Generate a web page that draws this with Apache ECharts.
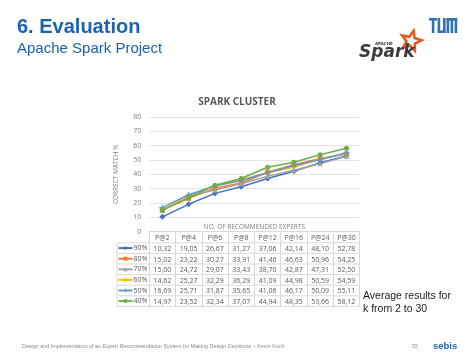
<!DOCTYPE html>
<html><head><meta charset="utf-8">
<script src="https://cdn.jsdelivr.net/npm/echarts@6/dist/echarts.min.js"></script>
<style>html,body{margin:0;padding:0;background:#fff}#c{width:474px;height:355px}</style>
</head><body><div id="c"></div>
<script>
// ---- data ----
const categories = ['P@2','P@4','P@6','P@8','P@12','P@16','P@24','P@30'];
const seriesNames = ['90%','80%','70%','60%','50%','40%'];
const s90 = [10.32, 19.05, 26.67, 31.27, 37.06, 42.14, 48.10, 52.78];
const s80 = [15.02, 23.22, 30.27, 33.91, 41.46, 46.63, 50.96, 54.25];
const s70 = [15.00, 24.72, 29.07, 33.43, 38.70, 42.87, 47.31, 52.50];
const s60 = [14.62, 25.27, 32.29, 36.29, 41.09, 44.98, 50.59, 54.59];
const s50 = [16.69, 25.71, 31.87, 35.65, 41.06, 46.17, 50.09, 55.11];
const s40 = [14.97, 23.52, 32.34, 37.07, 44.94, 48.35, 53.66, 58.12];
const yTickValues = [0,10,20,30,40,50,60,70,80];

// ---- styles ----
const rows = [s90,s80,s70,s60,s50,s40];
const colors = ['#4472C4','#ED7D31','#A5A5A5','#FFC000','#5B9BD5','#70AD47'];
const plus = 'path://M4,0H6V4H10V6H6V10H4V6H0V4H4Z';
const symbols = ['diamond','rect','triangle','none',plus,'circle'];
const symSizes = [6,5,5,0,6,5];
const fmt = v => v.toFixed(2).replace('.', ',');
const F = "'Open Sans', 'Liberation Sans', sans-serif";
const gL = 149.2, gR = 359.6, gT = 117, gB = 231.6;
const rowH = 10.6, headH = 11.2, tblLeft = 117;
const tblBottom = gB + headH + rowH*6;

const chart = echarts.init(document.getElementById('c'), null, {renderer:'canvas'});

function starPts(cx, cy, ro, ri, rot){
  const p=[]; for(let i=0;i<10;i++){const r=i%2?ri:ro; const a=rot+i*Math.PI/5; p.push([cx+r*Math.sin(a), cy-r*Math.cos(a)]);} return p;
}

const graphics = [
  {type:'text', left:17, top:17, style:{text:'6. Evaluation', font:"bold 20px 'Liberation Sans', Arial, sans-serif", fill:'#1a62b0'}},
  {type:'text', left:17, top:41, style:{text:'Apache Spark Project', font:"15px 'Liberation Sans', Arial, sans-serif", fill:'#1a62b0'}},
  // TUM logo
  {type:'rect', shape:{x:429,y:18,width:8,height:2.6}, style:{fill:'#3070b3'}},
  {type:'rect', shape:{x:431.8,y:18,width:2.6,height:15}, style:{fill:'#3070b3'}},
  {type:'rect', shape:{x:437.6,y:18,width:2.6,height:15}, style:{fill:'#3070b3'}},
  {type:'rect', shape:{x:437.6,y:30.4,width:8,height:2.6}, style:{fill:'#3070b3'}},
  {type:'rect', shape:{x:443,y:18,width:2.6,height:15}, style:{fill:'#3070b3'}},
  {type:'rect', shape:{x:446.6,y:18,width:10.6,height:2.6}, style:{fill:'#3070b3'}},
  {type:'rect', shape:{x:446.6,y:18,width:2.6,height:15}, style:{fill:'#3070b3'}},
  {type:'rect', shape:{x:450.6,y:18,width:2.6,height:15}, style:{fill:'#3070b3'}},
  {type:'rect', shape:{x:454.6,y:18,width:2.6,height:15}, style:{fill:'#3070b3'}},
  // Spark logo
  {type:'polygon', shape:{points:starPts(411,41,10.5,4.6,0.25)}, style:{fill:'#fff', stroke:'#e25a1c', lineWidth:2.6}},
  {type:'text', left:375, top:41.5, style:{text:'APACHE', font:"bold 4px 'DejaVu Sans', sans-serif", fill:'#3c3a3e'}},
  {type:'text', left:359, top:44, style:{text:'Spark', font:"bold italic 17px 'DejaVu Sans', sans-serif", fill:'#3c3a3e'}},
  // Note
  {type:'text', left:363, top:290, style:{text:'Average results for\nk from 2 to 30', font:"10.5px 'Liberation Sans', Arial, sans-serif", lineHeight:12.5, fill:'#1a1a1a'}},
  // footer
  {type:'text', left:22, top:344, style:{text:'Design and Implementation of an Expert Recommendation System for Making Design Decisions \u2013 Kevin Koch', font:"5.4px 'Liberation Sans', Arial, sans-serif", fill:'#8a8a8a'}},
  {type:'text', left:412, top:344, style:{text:'55', font:"5.4px 'Liberation Sans', Arial, sans-serif", fill:'#8a8a8a'}},
  {type:'text', left:433, top:341, style:{text:'sebis', font:"bold 9.5px 'Liberation Sans', Arial, sans-serif", fill:'#1d6ab3'}},
  // table left border
  {type:'line', shape:{x1:tblLeft,y1:gB+headH,x2:tblLeft,y2:tblBottom}, style:{stroke:'#d9d9d9', lineWidth:1}}
];
for(let k=0;k<=6;k++){
  const y = gB + headH + rowH*k;
  graphics.push({type:'line', shape:{x1:tblLeft,y1:y,x2:gR,y2:y}, style:{stroke:'#d9d9d9', lineWidth:1}});
}

const xAxes = [{
  type:'category', data:categories, boundaryGap:true, gridIndex:0, position:'bottom',
  axisLine:{show:true, lineStyle:{color:'#d9d9d9', width:1}},
  axisTick:{show:true, interval:0, length: tblBottom - gB, lineStyle:{color:'#d9d9d9'}},
  axisLabel:{interval:0, margin:2.6, fontSize:7, color:'#595959', fontFamily:F},
  name:'NO. OF RECOMMENDED EXPERTS', nameLocation:'middle', nameGap:-4.5,
  nameTextStyle:{fontSize:6.5, color:'#7f7f7f', fontFamily:F, verticalAlign:'middle'}
}];
rows.forEach((r,k)=>{
  xAxes.push({
    type:'category', data:categories, gridIndex:0, position:'bottom', offset: headH + rowH*k,
    axisLine:{show:false}, axisTick:{show:false}, splitLine:{show:false},
    axisLabel:{interval:0, margin:2.6, fontSize:7, color:'#595959', fontFamily:F, formatter:(v,i)=>fmt(r[i])}
  });
});

chart.setOption({
  animation:false,
  backgroundColor:'#fff',
  title:{text:'SPARK CLUSTER', left:'center', top:92, textStyle:{fontSize:10, fontWeight:'bold', color:'#595959', fontFamily:F}},
  grid:{left:gL, right:474-gR, top:gT, bottom:355-gB, containLabel:false},
  legend:{orient:'vertical', left:117.5, top:gB+headH, padding:0, itemWidth:14, itemHeight:5, itemGap:0, selectedMode:false,
    data:seriesNames, textStyle:{fontSize:7, color:'#595959', fontFamily:F, lineHeight:rowH, height:rowH, padding:[0,0,0,-4]}},
  xAxis:xAxes,
  yAxis:{type:'value', min:yTickValues[0], max:yTickValues[yTickValues.length-1], interval:yTickValues[1]-yTickValues[0],
    axisLine:{show:false}, axisTick:{show:false},
    axisLabel:{fontSize:7, color:'#7f7f7f', margin:8, fontFamily:F},
    splitLine:{lineStyle:{color:'#e3e3e3', width:1}},
    name:'CORRECT MATCH %', nameLocation:'middle', nameRotate:90, nameGap:30,
    nameTextStyle:{fontSize:6.5, color:'#7f7f7f', fontFamily:F}},
  series: rows.map((r,k)=>({
    name:seriesNames[k], type:'line', data:r, xAxisIndex:0, yAxisIndex:0,
    symbol:symbols[k], symbolSize:symSizes[k], showSymbol:symbols[k]!=='none',
    lineStyle:{color:colors[k], width:1.5}, itemStyle:{color:colors[k]}, color:colors[k]
  })),
  graphic:graphics
});
</script></body></html>
